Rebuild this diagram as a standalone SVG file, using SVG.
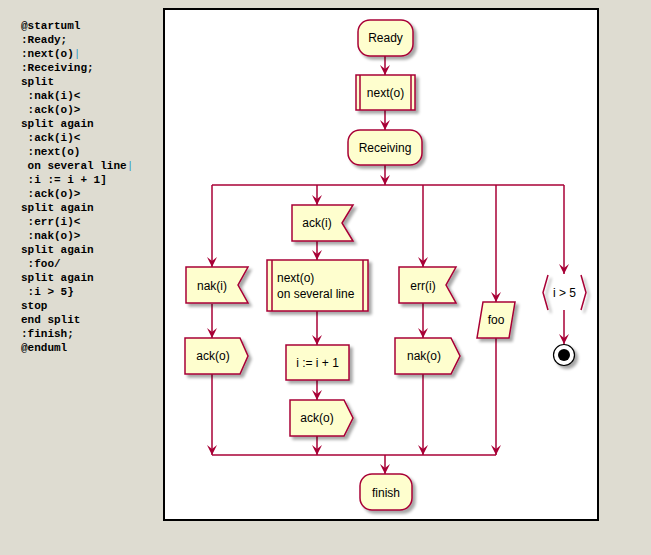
<svg xmlns="http://www.w3.org/2000/svg" width="651" height="555" viewBox="0 0 651 555">
<defs>
<filter id="sh" x="-20%" y="-20%" width="150%" height="150%"><feGaussianBlur in="SourceAlpha" stdDeviation="1.5"/><feOffset dx="3" dy="3"/><feComponentTransfer><feFuncA type="linear" slope="0.35"/></feComponentTransfer><feMerge><feMergeNode/><feMergeNode in="SourceGraphic"/></feMerge></filter>
<marker id="ar" viewBox="0 0 10 10" refX="10" refY="5" markerWidth="10" markerHeight="10" markerUnits="userSpaceOnUse" orient="auto"><path d="M0,0 L10,5 L0,10 L4,5 Z" fill="#A80036"/></marker>
</defs>
<style>
.n{fill:#FEFECE;stroke:#A80036;stroke-width:1.5;filter:url(#sh)}
.l{stroke:#A80036;stroke-width:1.5;fill:none}
.a{stroke:#A80036;stroke-width:1.5;fill:none}
.t{font-family:"Liberation Sans",Arial,sans-serif;font-size:12px;fill:#000}
.c{font-family:"Liberation Mono","Courier New",monospace;font-size:11px;font-weight:bold;fill:#000;white-space:pre}
</style>
<rect width="651" height="555" fill="#DEDCD1"/>
<g id="code" xml:space="preserve">
<text class="c" x="21" y="29">@startuml</text>
<text class="c" x="21" y="43">:Ready;</text>
<text class="c" x="21" y="57">:next(o)<tspan fill="#3399cc" font-weight="normal">|</tspan></text>
<text class="c" x="21" y="71">:Receiving;</text>
<text class="c" x="21" y="85">split</text>
<text class="c" x="21" y="99"> :nak(i)&lt;</text>
<text class="c" x="21" y="113"> :ack(o)&gt;</text>
<text class="c" x="21" y="127">split again</text>
<text class="c" x="21" y="141"> :ack(i)&lt;</text>
<text class="c" x="21" y="155"> :next(o)</text>
<text class="c" x="21" y="169"> on several line<tspan fill="#3399cc" font-weight="normal">|</tspan></text>
<text class="c" x="21" y="183"> :i := i + 1]</text>
<text class="c" x="21" y="197"> :ack(o)&gt;</text>
<text class="c" x="21" y="211">split again</text>
<text class="c" x="21" y="225"> :err(i)&lt;</text>
<text class="c" x="21" y="239"> :nak(o)&gt;</text>
<text class="c" x="21" y="253">split again</text>
<text class="c" x="21" y="267"> :foo/</text>
<text class="c" x="21" y="281">split again</text>
<text class="c" x="21" y="295"> :i &gt; 5}</text>
<text class="c" x="21" y="309">stop</text>
<text class="c" x="21" y="323">end split</text>
<text class="c" x="21" y="337">:finish;</text>
<text class="c" x="21" y="351">@enduml</text>
</g>
<rect x="164" y="9" width="434" height="511" fill="#fff" stroke="#000" stroke-width="2"/>
<g id="connectors">
<path class="a" d="M385,56 V75" marker-end="url(#ar)"/>
<path class="a" d="M385,110 V130" marker-end="url(#ar)"/>
<path class="a" d="M385,165 V185" marker-end="url(#ar)"/>
<path class="l" d="M212,185 H564"/>
<path class="a" d="M212,185 V267" marker-end="url(#ar)"/>
<path class="a" d="M212,304 V338" marker-end="url(#ar)"/>
<path class="a" d="M212,374 V455" marker-end="url(#ar)"/>
<path class="a" d="M317,185 V205" marker-end="url(#ar)"/>
<path class="a" d="M317,241 V260" marker-end="url(#ar)"/>
<path class="a" d="M317,311 V345" marker-end="url(#ar)"/>
<path class="a" d="M317,380 V400" marker-end="url(#ar)"/>
<path class="a" d="M317,436 V455" marker-end="url(#ar)"/>
<path class="a" d="M423,185 V267" marker-end="url(#ar)"/>
<path class="a" d="M423,303 V338" marker-end="url(#ar)"/>
<path class="a" d="M423,374 V455" marker-end="url(#ar)"/>
<path class="a" d="M496,185 V302" marker-end="url(#ar)"/>
<path class="a" d="M496,338 V455" marker-end="url(#ar)"/>
<path class="a" d="M564,185 V274" marker-end="url(#ar)"/>
<path class="a" d="M564,310 V344" marker-end="url(#ar)"/>
<path class="l" d="M212,455 H496"/>
<path class="a" d="M385,455 V474" marker-end="url(#ar)"/>
</g>
<g id="ready"><rect class="n" x="358" y="20" width="55" height="36" rx="12"/><text class="t" x="385.5" y="42" text-anchor="middle">Ready</text></g>
<g id="next1"><rect class="n" x="356" y="75" width="59" height="35"/><path class="l" d="M360,75 V110 M411,75 V110"/><text class="t" x="385.5" y="97" text-anchor="middle">next(o)</text></g>
<g id="receiving"><rect class="n" x="348" y="130" width="74" height="35" rx="12"/><text class="t" x="385" y="152" text-anchor="middle">Receiving</text></g>
<g id="naki"><path class="n" d="M186,267 H248 L238,285 L248,303 H186 Z"/><text class="t" x="212" y="290" text-anchor="middle">nak(i)</text></g>
<g id="acko1"><path class="n" d="M185,338 H240 L248,356 L240,374 H185 Z"/><text class="t" x="213" y="360" text-anchor="middle">ack(o)</text></g>
<g id="acki"><path class="n" d="M292,205 H353 L342,223 L353,241 H292 Z"/><text class="t" x="317" y="227" text-anchor="middle">ack(i)</text></g>
<g id="next2"><rect class="n" x="267" y="260" width="101" height="51"/><path class="l" d="M272,260 V311 M363,260 V311"/><text class="t" x="277" y="282">next(o)</text><text class="t" x="277" y="298">on several line</text></g>
<g id="inc"><rect class="n" x="286" y="345" width="63" height="35"/><text class="t" x="317.5" y="367" text-anchor="middle">i := i + 1</text></g>
<g id="acko2"><path class="n" d="M290,400 H344 L353,418 L344,436 H290 Z"/><text class="t" x="317" y="422" text-anchor="middle">ack(o)</text></g>
<g id="erri"><path class="n" d="M399,267 H456 L446,285 L456,303 H399 Z"/><text class="t" x="423" y="290" text-anchor="middle">err(i)</text></g>
<g id="nako"><path class="n" d="M395,338 H451 L460,356 L451,374 H395 Z"/><text class="t" x="424" y="360" text-anchor="middle">nak(o)</text></g>
<g id="foo"><path class="n" d="M483,302 H515 L509,338 H477 Z"/><text class="t" x="496" y="324" text-anchor="middle">foo</text></g>
<g id="cond"><path d="M548,275 L543,292.5 L548,310 M581,275 L586,292.5 L581,310" fill="none" stroke="#A80036" stroke-width="1.5" filter="url(#sh)"/><text class="t" x="564.5" y="297" text-anchor="middle">i &gt; 5</text></g>
<g id="stop"><circle cx="564" cy="355" r="10.5" fill="#fff" stroke="#000" stroke-width="1.2" filter="url(#sh)"/><circle cx="564" cy="355" r="6" fill="#000"/></g>
<g id="finish"><rect class="n" x="360" y="474" width="52" height="36" rx="12"/><text class="t" x="386" y="497" text-anchor="middle">finish</text></g>
</svg>
